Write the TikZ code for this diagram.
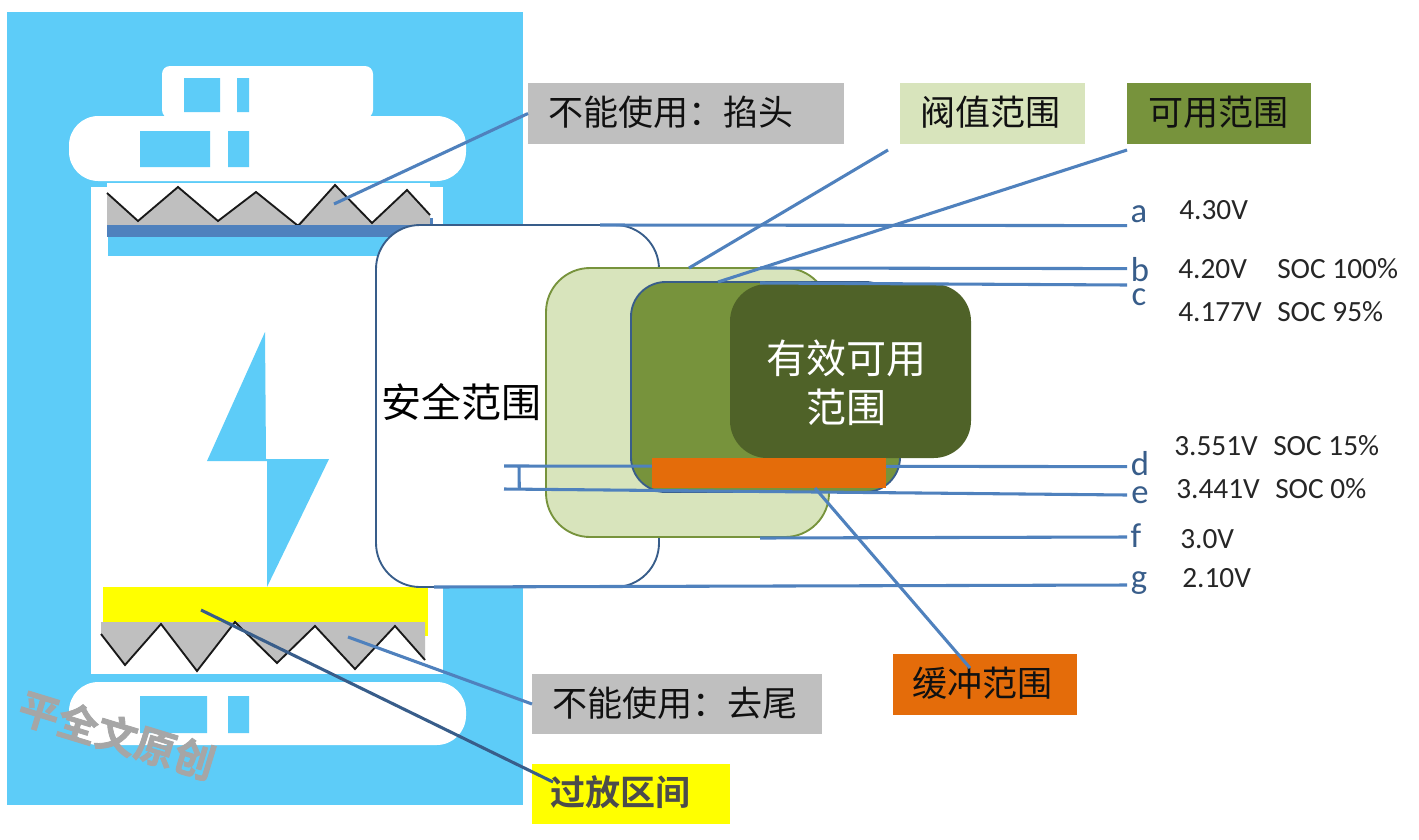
\documentclass[tikz,border=0pt]{standalone}
\usepackage{fontspec}
\setmainfont{Carlito}
\newfontfamily\cjk{Noto Sans CJK SC}
\newfontfamily\cjkb{Noto Sans CJK SC Bold}
\newfontfamily\cjkw[FakeBold=2]{Noto Sans CJK SC Bold}
\definecolor{sky}{HTML}{5DCCF8}
\definecolor{lead}{HTML}{4F81BD}
\definecolor{edgeb}{HTML}{385D8A}
\definecolor{gr}{HTML}{BFBFBF}
\definecolor{ltg}{HTML}{D8E4BC}
\definecolor{midg}{HTML}{77933C}
\definecolor{dkg}{HTML}{4F6228}
\definecolor{org}{HTML}{E46C0A}
\definecolor{txt}{HTML}{111111}
\definecolor{yel}{HTML}{FFFF00}
\definecolor{wmk}{HTML}{A6A6A6}
\tikzset{
 x=0.75pt,y=-0.75pt,
 boxlabel/.style={inner sep=0pt,outer sep=0pt,anchor=north west,font=\cjk\fontsize{26.3}{26.3}\selectfont,text=txt},
 leader/.style={draw=lead,line width=2.3pt},
 levelline/.style={draw=lead,line width=2.3pt},
 zig/.style={fill=gr,draw=none},
 zigl/.style={draw=black!90,line width=1.4pt,line join=miter},
 volt/.style={inner sep=0pt,anchor=base west,font=\fontsize{22}{22}\selectfont,text=black!85},
 letter/.style={inner sep=0pt,anchor=base,font=\fontsize{26}{26}\selectfont,text=edgeb},
}
\newcommand{\bx}[6]{\node[inner sep=0pt,outer sep=0pt,anchor=north west,minimum width=#4*0.75pt,minimum height=#5*0.75pt,fill=#6] (#1) at (#2,#3) {};}
\newcommand{\vsoc}[2]{\makebox[74.25pt][l]{#1}#2}
\begin{document}
\begin{tikzpicture}
\useasboundingbox (0,0) rectangle (1419,839);
\fill[white] (0,0) rectangle (1419,839);
% battery icon
\fill[sky] (7,12) rectangle (523,805);
\fill[white,rounded corners=6pt] (162,66) rectangle (373,118);
\fill[sky] (184,78) rectangle (220,112) (237,78) rectangle (249,112);
\fill[white,rounded corners=22pt] (69,116) rectangle (466,181);
\fill[sky] (140,131) rectangle (210,167) (228,131) rectangle (249,167);
\fill[white] (91,187) rectangle (108,674);
\fill[white] (430,187) rectangle (443,674);
\fill[white,rounded corners=22pt] (69,682) rectangle (466,745);
\fill[sky] (140,696) rectangle (207,733) (228,696) rectangle (249,733);
\fill[white] (107,183) rectangle (430,225);
\fill[white] (107,256) rectangle (431,590);
\fill[sky] (265,332) -- (207,461) -- (267,461) -- (267,587) -- (329,459) -- (266,459) -- cycle;
% top zigzag
\fill[zig] (107,193) -- (138,221) -- (178,187) -- (218,221) -- (256,192) -- (297,225) -- (335,185) -- (372,223) -- (407,190) -- (430,215) -- (430,225) -- (107,225) -- cycle;
\draw[zigl] (107,193) -- (138,221) -- (178,187) -- (218,221) -- (256,192) -- (297,225) -- (299,225) -- (335,185) -- (372,223) -- (407,190) -- (430,215);
\fill[lead] (107,225) rectangle (433,237);
\fill[lead] (430,218) rectangle (433,225);
% bottom
\fill[white] (425,636) rectangle (431,674);
\fill[yel] (103,587) rectangle (428,636);
\fill[white] (428,587) rectangle (431,636);
\fill[white] (101,622) rectangle (425,674);
\fill[zig] (101,622) -- (101,634) -- (125,665) -- (161,624) -- (197,671) -- (235,622) -- (277,663) -- (315,626) -- (355,669) -- (395,626) -- (425,660) -- (425,622) -- cycle;
\draw[zigl] (101,634) -- (125,665) -- (161,624) -- (197,671) -- (235,622) -- (277,663) -- (315,626) -- (355,669) -- (395,626) -- (425,660);
\node[inner sep=0pt,rotate=-17,text=wmk,font=\cjkw\fontsize{30.4}{30.4}\selectfont] (wm) at (117,735) {平全文原创};
% regions
\node[draw=edgeb,line width=1.4pt,fill=white,rounded corners=33pt,inner sep=0pt,outer sep=0pt,anchor=north west,minimum width=283*0.75pt,minimum height=362*0.75pt] (safe) at (376,225) {};
\node[draw=midg,line width=1.4pt,fill=ltg,rounded corners=33pt,inner sep=0pt,outer sep=0pt,anchor=north west,minimum width=283*0.75pt,minimum height=269*0.75pt] (thr) at (546,268) {};
\node[draw=edgeb,line width=1.4pt,fill=midg,rounded corners=26pt,inner sep=0pt,outer sep=0pt,anchor=north west,minimum width=269*0.75pt,minimum height=210*0.75pt] (use) at (631,282) {};
\node[fill=dkg,rounded corners=28pt,inner sep=0pt,outer sep=0pt,anchor=north west,minimum width=241*0.75pt,minimum height=174*0.75pt] (eff) at (730,284) {};
\node[font=\cjk\fontsize{30}{37}\selectfont,text=white,align=center,inner sep=0pt] (efft) at (846,383) {有效可用\\范围};
\node[font=\cjk\fontsize{30}{30}\selectfont,text=black,inner sep=0pt] (safet) at (461,402) {安全范围};
% level coordinates
\coordinate (a0) at (600,225); \coordinate (a1) at (1127,225.6);
\coordinate (b0) at (760,268); \coordinate (b1) at (1127,268.6);
\coordinate (c0) at (760,283); \coordinate (c1) at (1127,285);
\coordinate (d0) at (504,466); \coordinate (d1) at (1127,466.6);
\coordinate (e0) at (504,489); \coordinate (e1) at (1127,495);
\coordinate (f0) at (760,538); \coordinate (f1) at (1127,537);
\coordinate (g0) at (434,587); \coordinate (g1) at (1127,585);
\coordinate (v0) at (519,466); \coordinate (v1) at (519.3,489);
\draw[levelline] (a0)--(a1); \draw[levelline] (b0)--(b1); \draw[levelline] (c0)--(c1);
\draw[levelline] (d0)--(d1);
\draw[levelline] (f0)--(f1); \draw[levelline] (g0)--(g1); \draw[levelline] (v0)--(v1);
\bx{buf}{652}{458}{234}{30}{org}
\draw[levelline] (e0)--(e1);
% label boxes
\bx{top}{528}{83}{316}{61}{gr}
\bx{thrb}{900}{83}{185}{61}{ltg}
\bx{useb}{1127}{83}{184}{61}{midg}
\bx{bufb}{893}{654}{184}{61}{org}
\bx{tail}{532}{674}{290}{60}{gr}
\bx{over}{532}{764}{198}{60}{yel}
\node[boxlabel] (topt) at (548,96) {不能使用：掐头};
\node[boxlabel] (thrt) at (920,96) {阀值范围};
\node[boxlabel] (uset) at (1148,96) {可用范围};
\node[boxlabel] (buft) at (912,667) {缓冲范围};
\node[boxlabel] (tailt) at (552,687) {不能使用：去尾};
\node[boxlabel,font=\cjkb\fontsize{26.3}{26.3}\selectfont,text=black!70] (overt) at (550,776) {过放区间};
% leaders
\coordinate (p1) at (334,204);
\coordinate (p2) at (689,268);
\coordinate (p3) at (718,282);
\coordinate (p4) at (815,488);
\coordinate (p5) at (348,637);
\coordinate (p6) at (201,610);
\coordinate (s2) at (888,150);
\coordinate (s3) at (1127,150);
\coordinate (s4) at (970,668);
\coordinate (s6) at (553,782);
\draw[leader] (top.west) -- (p1);
\draw[leader] (s2) -- (p2);
\draw[leader] (s3) -- (p3);
\draw[leader] (s4) -- (p4);
\draw[leader] (tail.west) -- (p5);
\draw[leader,draw=edgeb] (s6) -- (p6);
% letters
\node[letter] (la) at (1139,222) {a};
\node[letter] (lb) at (1140,281) {b};
\node[letter] (lc) at (1139,305) {c};
\node[letter] (ld) at (1140,475) {d};
\node[letter] (le) at (1140,503) {e};
\node[letter] (lf) at (1136,547) {f};
\node[letter] (lg) at (1139,588) {g};
% voltages
\node[volt] (va) at (1179,219) {4.30V};
\node[volt] (vb) at (1178,278) {\vsoc{4.20V}{SOC 100\%}};
\node[volt] (vc) at (1178,321) {\vsoc{4.177V}{SOC 95\%}};
\node[volt] (vd) at (1174,455) {\vsoc{3.551V}{SOC 15\%}};
\node[volt] (ve) at (1176,498) {\vsoc{3.441V}{SOC 0\%}};
\node[volt] (vf) at (1180,548) {3.0V};
\node[volt] (vg) at (1182,587) {2.10V};
\end{tikzpicture}
\end{document}
